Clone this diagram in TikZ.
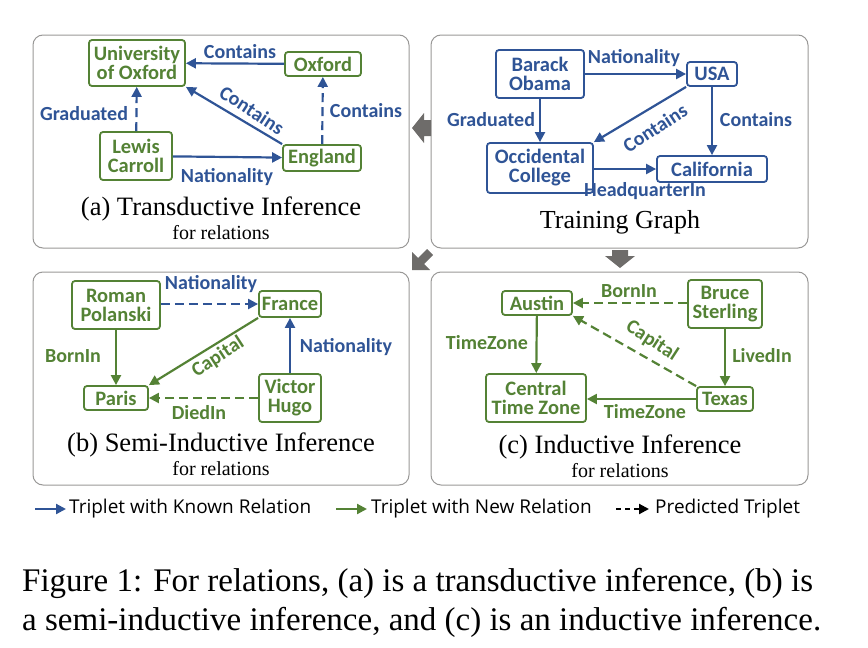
\documentclass[tikz,border=0pt]{standalone}
\usepackage{fontspec}
\setmainfont{Liberation Serif}
\newfontfamily\nodefont{Carlito}
\newfontfamily\legfont{Open Sans}
\usetikzlibrary{positioning, calc, arrows.meta}
\definecolor{kblue}{RGB}{47,84,150}
\definecolor{kgreen}{RGB}{84,130,53}
\definecolor{kgray}{RGB}{110,108,106}
\tikzset{
  ent/.style={draw, line width=1.8pt, rounded corners=3pt, align=center,
    font=\nodefont\bfseries\fontsize{20.5}{19}\selectfont, inner sep=1pt},
  bent/.style={ent, draw=kblue, text=kblue},
  gent/.style={ent, draw=kgreen, text=kgreen},
  rel/.style={line width=2.2pt, -{Triangle[length=10pt,width=10pt]}},
  brel/.style={rel, kblue},
  grel/.style={rel, kgreen},
  pred/.style={dash pattern=on 9pt off 5pt},
  lab/.style={font=\nodefont\bfseries\fontsize{20}{20}\selectfont, text=kblue, inner sep=1pt},
  panel/.style={draw=kgray!70, line width=1pt, rounded corners=10pt},
  title/.style={font=\fontsize{26.5}{26.5}\selectfont},
  subtitle/.style={font=\fontsize{20}{20}\selectfont},
  bigarrow/.style={fill=kgray, draw=none}
}
\begin{document}
\begin{tikzpicture}[x=1pt, y=-1pt]
  \useasboundingbox (0,0) rectangle (868,648);
  % panels
  \draw[panel] (33,35) rectangle (409,248);
  \draw[panel] (431,35) rectangle (808,248);
  \draw[panel] (33,272) rectangle (409,485);
  \draw[panel] (431,272) rectangle (808,485);
  % big gray arrows
  \fill[bigarrow] (431,120) -- (424,120) -- (424,113) -- (412,128) -- (424,143) -- (424,136) -- (431,136) -- cycle;
  \fill[bigarrow] (612,250) -- (612,256) -- (605,256) -- (620,268) -- (635,256) -- (628,256) -- (628,250) -- cycle;
  \fill[bigarrow] (412,252) -- (412,270) -- (430,270) -- (424,264) -- (433,255) -- (427,249) -- (418,258) -- cycle;

  % (a) transductive
  \node[gent, minimum width=96pt, minimum height=46pt] (uoo) at (137,63) {University\\of Oxford};
  \node[gent, minimum width=76pt, minimum height=24pt] (oxf) at (323,64) {Oxford};
  \node[gent, minimum width=72pt, minimum height=48pt] (lewis) at (136,156) {Lewis\\Carroll};
  \node[gent, minimum width=78pt, minimum height=26pt] (eng) at (322,158) {England};
  \draw[brel] (oxf) -- (uoo);
  \draw[brel] (eng.north west) -- (uoo.south east);
  \draw[brel, pred] (lewis) -- (uoo);
  \draw[brel, pred] (eng) -- (oxf);
  \draw[brel] (lewis) -- (eng);
  \node[lab] (la1) at (240,52) {Contains};
  \node[lab, rotate=-33] (la2) at (252,110) {Contains};
  \node[lab] (la3) at (84,114) {Graduated};
  \node[lab] (la4) at (366,111) {Contains};
  \node[lab] (la5) at (227,177) {Nationality};
  \node[title] (capa) at (221,209) {(a) Transductive Inference};
  \node[subtitle] (suba) at (221,233) {for relations};

  % training graph
  \node[bent, minimum width=88pt, minimum height=48pt] (obama) at (540,74) {Barack\\Obama};
  \node[bent, minimum width=50pt, minimum height=24pt] (usa) at (712,74) {USA};
  \node[bent, minimum width=106pt, minimum height=50pt] (occ) at (540,168) {Occidental\\College};
  \node[bent, minimum width=110pt, minimum height=26pt] (cal) at (712,169) {California};
  \draw[brel] (obama) -- (usa);
  \draw[brel] (obama) -- (occ);
  \draw[brel] (usa.south west) -- (occ.north east);
  \draw[brel] (usa) -- (cal);
  \draw[brel] (occ.east |- cal) -- (cal);
  \node[lab] (lt1) at (634,58) {Nationality};
  \node[lab] (lt2) at (491,120) {Graduated};
  \node[lab, rotate=33] (lt3) at (655,128) {Contains};
  \node[lab] (lt4) at (756,120) {Contains};
  \node[lab] (lt5) at (645,191) {HeadquarterIn};
  \node[font=\fontsize{26}{26}\selectfont] (capt) at (620,222) {Training Graph};

  % (b) semi-inductive
  \node[gent, minimum width=88pt, minimum height=48pt] (roman) at (116,305) {Roman\\Polanski};
  \node[gent, minimum width=62pt, minimum height=26pt] (fra) at (290,304) {France};
  \node[gent, minimum width=64pt, minimum height=24pt] (paris) at (116,398) {Paris};
  \node[gent, minimum width=62pt, minimum height=48pt] (hugo) at (290,398) {Victor\\Hugo};
  \draw[brel, pred] (roman.east |- fra) -- (fra);
  \draw[grel] (roman) -- (paris);
  \draw[grel] (fra.south west) -- (paris.north east);
  \draw[brel] (hugo) -- (fra);
  \draw[grel, pred] (hugo) -- (paris);
  \node[lab] (lb1) at (211,284) {Nationality};
  \node[lab, text=kgreen] (lb2) at (73,356) {BornIn};
  \node[lab, text=kgreen, rotate=33] (lb3) at (218,357) {Capital};
  \node[lab] (lb4) at (346,347) {Nationality};
  \node[lab, text=kgreen] (lb5) at (199,413) {DiedIn};
  \node[title] (capb) at (221,445) {(b) Semi-Inductive Inference};
  \node[subtitle] (subb) at (221,469) {for relations};

  % (c) inductive
  \node[gent, minimum width=70pt, minimum height=24pt] (aus) at (537,303) {Austin};
  \node[gent, minimum width=74pt, minimum height=48pt] (bruce) at (725,304) {Bruce\\Sterling};
  \node[gent, minimum width=100pt, minimum height=48pt] (ctz) at (536,398) {Central\\Time Zone};
  \node[gent, minimum width=56pt, minimum height=24pt] (tex) at (725,399) {Texas};
  \draw[grel, pred] (bruce.west |- aus) -- (aus);
  \draw[grel] (aus) -- (ctz);
  \draw[grel, pred] (tex.north west) -- (aus.south east);
  \draw[grel] (bruce) -- (tex);
  \draw[grel] (tex) -- (ctz.east |- tex);
  \node[lab, text=kgreen] (lc1) at (629,291) {BornIn};
  \node[lab, text=kgreen] (lc2) at (487,343) {TimeZone};
  \node[lab, text=kgreen, rotate=-33] (lc3) at (652,341) {Capital};
  \node[lab, text=kgreen] (lc4) at (762,356) {LivedIn};
  \node[lab, text=kgreen] (lc5) at (645,412) {TimeZone};
  \node[title] (capc) at (620,447) {(c) Inductive Inference};
  \node[subtitle] (subc) at (620,471) {for relations};

  % legend
  \coordinate (k1) at (35,509); \coordinate (k2) at (66,509);
  \coordinate (n1) at (336,509); \coordinate (n2) at (367,509);
  \coordinate (p1) at (616,509); \coordinate (p2) at (649,509);
  \draw[brel] (k1) -- (k2);
  \draw[grel] (n1) -- (n2);
  \draw[rel, black, dash pattern=on 5pt off 4pt] (p1) -- (p2);
  \node[anchor=west, font=\legfont\fontsize{19}{19}\selectfont, inner sep=1pt] (lk) at (68,509) {Triplet with Known Relation};
  \node[anchor=west, font=\legfont\fontsize{19}{19}\selectfont, inner sep=1pt] (ln) at (370,509) {Triplet with New Relation};
  \node[anchor=west, font=\legfont\fontsize{19}{19}\selectfont, inner sep=1pt] (lp) at (654,509) {Predicted Triplet};

  % figure caption
  \node[anchor=west, font=\fontsize{33}{33}\selectfont, inner sep=0pt] (fig1) at (22,583) {Figure 1: For relations, (a) is a transductive inference, (b) is};
  \node[anchor=west, font=\fontsize{33}{33}\selectfont, inner sep=0pt] (fig2) at (22,622) {a semi-inductive inference, and (c) is an inductive inference.};
\end{tikzpicture}
\end{document}
